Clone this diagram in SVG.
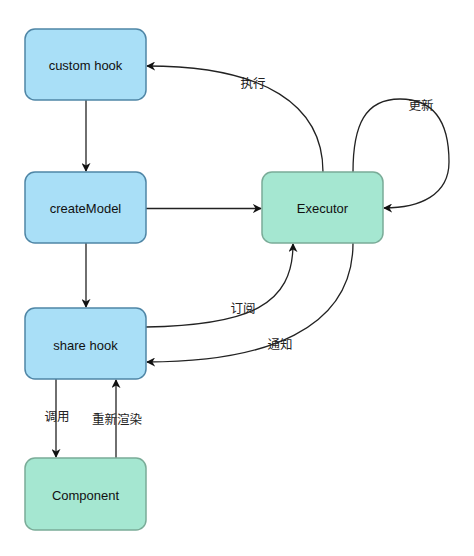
<svg xmlns="http://www.w3.org/2000/svg" width="474" height="556" viewBox="0 0 474 556">
<defs>
<style>
.blue{fill:#a9dff7;stroke:#4f86a6;stroke-width:1.5}
.green{fill:#a5e7d1;stroke:#7aac98;stroke-width:1.5}
.nt{font-family:"Liberation Sans",Arial,sans-serif;font-size:13px;fill:#111;text-anchor:middle;dominant-baseline:central}
.edge{fill:none;stroke:#222;stroke-width:1.3;marker-end:url(#arr)}
.lbl{font-family:"Noto Sans CJK SC","Liberation Sans",sans-serif;font-size:12.5px;fill:#222;text-anchor:middle;dominant-baseline:central}
</style>
<marker id="arr" viewBox="0 0 10 10" refX="9" refY="5" markerWidth="9" markerHeight="9" markerUnits="userSpaceOnUse" orient="auto">
<path d="M0,0 L10,5 L0,10 L3,5 Z" fill="#111"/>
</marker>
</defs>
<rect width="474" height="556" fill="#fff"/>
<g id="connectors">
<path class="edge" d="M86,100 L86,171"/>
<path class="edge" d="M86,243 L86,307"/>
<path class="edge" d="M146,208.5 L261,208.5"/>
<path class="edge" d="M323,172 C323,105 265,66 147,66"/>
<path class="edge" d="M353,172 C353,125 365,99 400,99 C440,99 449,130 449,162 C449,195 420,208 384,208"/>
<path class="edge" d="M146,327 C250,325 293,305 293,244"/>
<path class="edge" d="M353,243 C353,330 265,362 147,362"/>
<path class="edge" d="M56,379 L56,457"/>
<path class="edge" d="M116,458 L116,380"/>
<text class="lbl" x="253" y="82">执行</text>
<text class="lbl" x="421" y="104">更新</text>
<text class="lbl" x="243" y="307">订阅</text>
<text class="lbl" x="280" y="343">通知</text>
<text class="lbl" x="57" y="415">调用</text>
<text class="lbl" x="117" y="418">重新渲染</text>
</g>
<g id="custom-hook">
<rect class="blue" x="25" y="29" width="121" height="71" rx="10"/>
<text class="nt" x="85.5" y="65">custom hook</text>
</g>
<g id="createModel">
<rect class="blue" x="25" y="172" width="121" height="71" rx="10"/>
<text class="nt" x="85.5" y="208.5">createModel</text>
</g>
<g id="executor">
<rect class="green" x="262" y="172" width="121" height="71" rx="10"/>
<text class="nt" x="322.5" y="208.5">Executor</text>
</g>
<g id="share-hook">
<rect class="blue" x="25" y="308" width="121" height="71" rx="10"/>
<text class="nt" x="85.5" y="345">share hook</text>
</g>
<g id="component">
<rect class="green" x="25" y="458" width="121" height="72" rx="10"/>
<text class="nt" x="85.5" y="495">Component</text>
</g>
</svg>
